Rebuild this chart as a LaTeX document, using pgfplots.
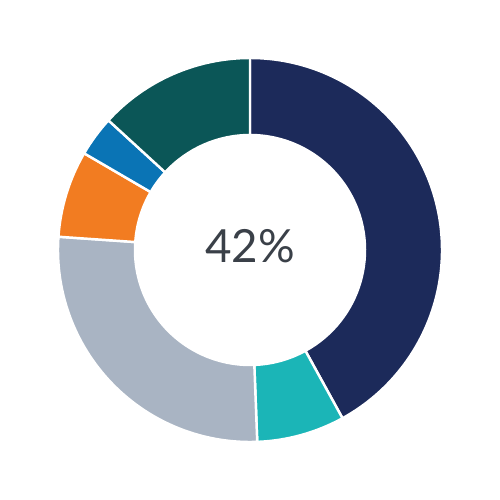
\documentclass[border=0pt]{standalone}
\usepackage{pgfplots}
\usepackage{pgfplotstable}
\pgfplotsset{compat=1.18}
\usepackage{fontspec}
\setmainfont{Lato}

\definecolor{cNavy}{HTML}{1C2A5A}
\definecolor{cTeal}{HTML}{1BB5B7}
\definecolor{cGray}{HTML}{A9B4C3}
\definecolor{cOrange}{HTML}{F27C21}
\definecolor{cBlue}{HTML}{0A74B5}
\definecolor{cGreen}{HTML}{0B5657}
\definecolor{cText}{HTML}{3A4048}

% share of each slice, clockwise from 12 o'clock
\pgfplotstableread{
share col
42.0 cNavy
7.4  cTeal
26.7 cGray
7.3  cOrange
3.4  cBlue
13.2 cGreen
}\donutdata

\def\Ro{3.84cm}
\def\Ri{2.30cm}

\begin{document}
\begin{tikzpicture}
\begin{axis}[
    width=10cm, height=10cm, scale only axis,
    xmin=-250, xmax=250, ymin=-250, ymax=250,
    hide axis, clip=false
]
\path (axis cs:-250,-250) rectangle (axis cs:250,250);
\coordinate (O) at (axis cs:0,0);
\pgfplotstablegetrowsof{\donutdata}
\pgfmathtruncatemacro\N{\pgfplotsretval-1}
\def\cum{0}
\pgfplotsforeachungrouped \i in {0,...,\N}{
    \pgfplotstablegetelem{\i}{share}\of\donutdata \let\v\pgfplotsretval
    \pgfplotstablegetelem{\i}{col}\of\donutdata \let\c\pgfplotsretval
    \pgfmathsetmacro\a{90-3.6*\cum}
    \pgfmathsetmacro\b{90-3.6*(\cum+\v)}
    \edef\slice{\noexpand\fill[\c, draw=white, line width=1.4pt, line join=miter]
        ([shift={(\a:\Ro)}]O) arc[start angle=\a, end angle=\b, radius=\Ro]
        -- ([shift={(\b:\Ri)}]O) arc[start angle=\b, end angle=\a, radius=\Ri] -- cycle;}
    \slice
    \pgfmathsetmacro\cum{\cum+\v}
    \global\let\cum\cum
}
\node[text=cText, font=\fontsize{26}{30}\selectfont] at (axis cs:0,4) {42\%};
\end{axis}
\end{tikzpicture}
\end{document}
